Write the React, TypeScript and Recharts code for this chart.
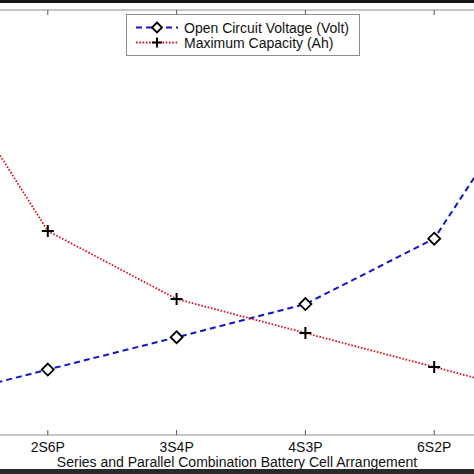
import { Label, Legend, Line, LineChart, XAxis, YAxis } from "recharts";

// cell arrangements (outer two sit outside the cropped view)
const arrangements = ["1S12P", "2S6P", "3S4P", "4S3P", "6S2P", "12S1P"];
const openCircuitVoltage = [3.85, 7.7, 11.5, 15.4, 23.1, 46.2];
const maximumCapacity = [48, 24, 16, 12, 8, 4];
const yDomain: [number, number] = [0, 50];

const data = arrangements.map((name, i) => ({
  name,
  voltage: openCircuitVoltage[i],
  capacity: maximumCapacity[i],
}));

const FONT = "'Liberation Sans', Arial, Helvetica, sans-serif";
const AXIS = "#8c8c8c";
const BLUE = "#1414c8";
const RED = "#e0101e";

function Diamond({ cx, cy, size = 6 }: { cx?: number; cy?: number; size?: number }) {
  if (cx == null || cy == null) return null;
  return (
    <path
      d={`M${cx},${cy - size} L${cx + size},${cy} L${cx},${cy + size} L${cx - size},${cy} Z`}
      fill="#fff"
      stroke="#000"
      strokeWidth={1.8}
    />
  );
}

function Plus({ cx, cy, size = 6 }: { cx?: number; cy?: number; size?: number }) {
  if (cx == null || cy == null) return null;
  return (
    <path
      d={`M${cx - size},${cy} L${cx + size},${cy} M${cx},${cy - size} L${cx},${cy + size}`}
      stroke="#000"
      strokeWidth={2}
    />
  );
}

function BottomTick({ x, y, payload, index }: any) {
  // first and last arrangement fall outside the cropped view
  const shown = index > 0 && index < arrangements.length - 1;
  return (
    <g>
      <line x1={x} x2={x} y1={y} y2={y - 5} stroke="#555" />
      {shown && (
        <text x={x} y={y + 17} textAnchor="middle" fontSize={14} fontFamily={FONT} fill="#111">
          {payload.value}
        </text>
      )}
    </g>
  );
}

function TopTick({ x, y }: any) {
  return <line x1={x} x2={x} y1={y} y2={y + 5} stroke="#555" />;
}

function LegendBox() {
  const rows = [
    { label: "Open Circuit Voltage (Volt)", color: BLUE, dash: "6 4", width: 2, marker: "diamond" },
    { label: "Maximum Capacity (Ah)", color: RED, dash: "1.6 1.7", width: 1.8, marker: "plus" },
  ];
  return (
    <div
      style={{
        border: `1px solid ${AXIS}`,
        background: "#fff",
        padding: "5px 6px 5px 8px",
        fontFamily: FONT,
        fontSize: 14,
        color: "#111",
        boxSizing: "border-box",
        width: 234,
      }}
    >
      {rows.map((row) => (
        <div key={row.label} style={{ display: "flex", alignItems: "center", height: 15, whiteSpace: "nowrap" }}>
          <svg width={44} height={15} style={{ marginRight: 5, flexShrink: 0 }}>
            <line x1={1} x2={43} y1={7.5} y2={7.5} stroke={row.color} strokeWidth={row.width} strokeDasharray={row.dash} />
            {row.marker === "diamond" ? <Diamond cx={22} cy={7.5} size={5} /> : <Plus cx={22} cy={7.5} size={5} />}
          </svg>
          <span>{row.label}</span>
        </div>
      ))}
    </div>
  );
}

export default function App() {
  return (
    <div
      style={{
        position: "fixed",
        left: 0,
        top: 0,
        width: 474,
        height: 474,
        overflow: "hidden",
        background: "#fff",
      }}
    >
      <div style={{ position: "absolute", left: -81, top: 0 }}>
        <LineChart width={644} height={474} data={data} margin={{ top: 0, right: 0, bottom: 0, left: 0 }}>
          <XAxis
            dataKey="name"
            height={39}
            stroke={AXIS}
            tickLine={false}
            tickSize={0}
            tickMargin={0}
            interval={0}
            tick={<BottomTick />}
          >
            <Label
              value="Series and Parallel Combination Battery Cell Arrangement"
              position="insideBottom"
              offset={7.5}
              dx={-4}
              fontSize={14}
              fontFamily={FONT}
              fill="#111"
            />
          </XAxis>
          <XAxis
            xAxisId="top"
            dataKey="name"
            orientation="top"
            height={10}
            stroke={AXIS}
            tickLine={false}
            tickSize={0}
            tickMargin={0}
            interval={0}
            tick={<TopTick />}
          />
          <YAxis hide domain={yDomain} />
          <Legend
            layout="vertical"
            align="center"
            verticalAlign="middle"
            wrapperStyle={{ left: 207, top: 14, width: 234 }}
            content={<LegendBox />}
          />
          <Line
            type="linear"
            dataKey="voltage"
            name="Open Circuit Voltage (Volt)"
            stroke={BLUE}
            strokeWidth={2}
            strokeDasharray="6 4"
            dot={<Diamond />}
            activeDot={false}
            isAnimationActive={false}
          />
          <Line
            type="linear"
            dataKey="capacity"
            name="Maximum Capacity (Ah)"
            stroke={RED}
            strokeWidth={1.8}
            strokeDasharray="1.6 1.7"
            dot={<Plus />}
            activeDot={false}
            isAnimationActive={false}
          />
        </LineChart>
      </div>
      <div style={{ position: "absolute", left: 0, top: 0, width: 474, height: 3, background: "#151515" }} />
      <div style={{ position: "absolute", left: 0, top: 469, width: 474, height: 5, background: "#2a2a2a" }} />
    </div>
  );
}
